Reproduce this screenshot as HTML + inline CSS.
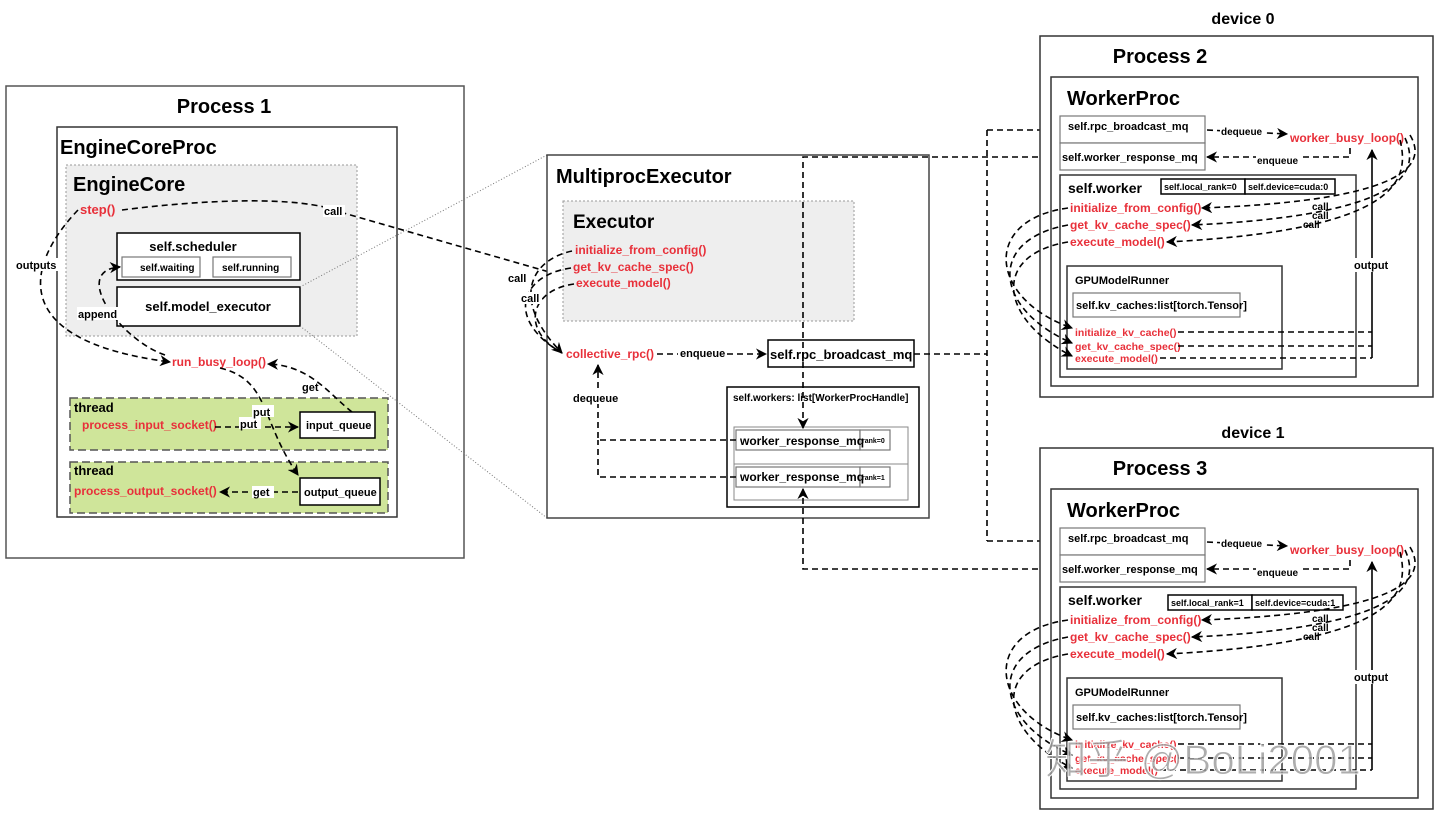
<!DOCTYPE html>
<html><head><meta charset="utf-8"><style>
html,body{margin:0;padding:0;background:#fff}
svg{display:block}
text{font-family:"Liberation Sans",Arial,sans-serif;font-weight:bold;fill:#000}
.r{fill:#e8303a}
.d{fill:none;stroke:#000;stroke-width:1.6;stroke-dasharray:6 4}
.b{fill:#fff;stroke:#000;stroke-width:1.5}
.g{fill:#fff;stroke:#777;stroke-width:1.2}
</style></head><body>
<svg width="1440" height="816" viewBox="0 0 1440 816" xmlns="http://www.w3.org/2000/svg">
<defs>
<marker id="a" viewBox="0 0 10 10" refX="9" refY="5" markerWidth="7" markerHeight="7" orient="auto-start-reverse"><path d="M0,0 L10,5 L0,10 L3,5 z" fill="#000"/></marker>
</defs>

<!-- Process 1 -->
<rect x="6" y="86" width="458" height="472" fill="#fff" stroke="#555" stroke-width="1.5"/>
<text x="224" y="113" font-size="20" text-anchor="middle">Process 1</text>
<rect x="57" y="127" width="340" height="390" fill="#fff" stroke="#333" stroke-width="1.5"/>
<text x="60" y="154" font-size="20">EngineCoreProc</text>
<rect x="66" y="165" width="291" height="171" fill="#eee" stroke="#999" stroke-dasharray="2 2"/>
<text x="73" y="191" font-size="20">EngineCore</text>
<text x="80" y="214" font-size="13" class="r">step()</text>
<rect x="117" y="233" width="183" height="47" class="b"/>
<text x="193" y="251" font-size="13" text-anchor="middle">self.scheduler</text>
<rect x="122" y="257" width="78" height="20" class="g"/>
<text x="140" y="271" font-size="10">self.waiting</text>
<rect x="213" y="257" width="78" height="20" class="g"/>
<text x="222" y="271" font-size="10">self.running</text>
<rect x="117" y="287" width="183" height="39" class="b"/>
<text x="208" y="311" font-size="13" text-anchor="middle">self.model_executor</text>
<text x="172" y="366" font-size="12" class="r">run_busy_loop()</text>

<rect x="70" y="398" width="318" height="52" fill="#cfe59a" stroke="#555" stroke-width="1.5" stroke-dasharray="8 4"/>
<text x="74" y="412" font-size="13">thread</text>
<text x="82" y="429" font-size="12" class="r">process_input_socket()</text>
<rect x="300" y="412" width="75" height="26" class="b"/>
<text x="306" y="429" font-size="11">input_queue</text>
<rect x="70" y="462" width="318" height="51" fill="#cfe59a" stroke="#555" stroke-width="1.5" stroke-dasharray="8 4"/>
<text x="74" y="475" font-size="13">thread</text>
<text x="74" y="495" font-size="12" class="r">process_output_socket()</text>
<rect x="300" y="478" width="80" height="27" class="b"/>
<text x="304" y="496" font-size="11">output_queue</text>

<!-- P1 connectors -->
<path class="d" d="M122,210 C200,200 300,195 340,212 L570,278" marker-end="url(#a)"/>
<rect x="323" y="205" width="22" height="12" fill="#fff"/><text x="324" y="215" font-size="11">call</text>
<path class="d" d="M78,210 C30,260 0,340 170,362" marker-end="url(#a)"/>
<rect x="15" y="258" width="46" height="13" fill="#fff"/><text x="16" y="269" font-size="11">outputs</text>
<path class="d" d="M165,355 C120,340 70,270 120,267" marker-end="url(#a)"/>
<rect x="77" y="307" width="46" height="13" fill="#fff"/><text x="78" y="318" font-size="11">append</text>
<path class="d" d="M352,412 C330,395 310,365 268,364" marker-end="url(#a)"/>
<text x="302" y="391" font-size="11">get</text>
<path class="d" d="M215,427 L298,427" marker-end="url(#a)"/>
<rect x="239" y="417" width="22" height="12" fill="#fff"/><text x="240" y="428" font-size="11">put</text>
<path class="d" d="M220,368 C270,380 260,420 298,475" marker-end="url(#a)"/>
<rect x="252" y="405" width="22" height="12" fill="#fff"/><text x="253" y="416" font-size="11">put</text>
<path class="d" d="M298,492 L220,492" marker-end="url(#a)"/>
<rect x="252" y="486" width="22" height="12" fill="#fff"/><text x="253" y="496" font-size="11">get</text>
<line x1="300" y1="287" x2="547" y2="155" stroke="#777" stroke-dasharray="1 2"/>
<line x1="300" y1="326" x2="547" y2="518" stroke="#777" stroke-dasharray="1 2"/>

<!-- MultiprocExecutor -->
<rect x="547" y="155" width="382" height="363" fill="#fff" stroke="#444" stroke-width="1.5"/>
<text x="556" y="183" font-size="20">MultiprocExecutor</text>
<rect x="563" y="201" width="291" height="120" fill="#eee" stroke="#999" stroke-dasharray="2 2"/>
<text x="573" y="228" font-size="19">Executor</text>
<text x="575" y="254" font-size="12" class="r">initialize_from_config()</text>
<text x="573" y="271" font-size="12" class="r">get_kv_cache_spec()</text>
<text x="576" y="287" font-size="12" class="r">execute_model()</text>
<text x="566" y="358" font-size="12" class="r">collective_rpc()</text>
<rect x="768" y="340" width="146" height="27" class="b"/>
<text x="770" y="359" font-size="13">self.rpc_broadcast_mq</text>
<rect x="727" y="387" width="192" height="120" class="b"/>
<text x="733" y="401" font-size="10">self.workers: list[WorkerProcHandle]</text>
<rect x="734" y="427" width="174" height="73" fill="none" stroke="#888"/>
<line x1="734" y1="464" x2="908" y2="464" stroke="#888"/>
<rect x="736" y="430" width="124" height="20" class="g"/><rect x="860" y="430" width="30" height="20" class="g"/>
<text x="740" y="445" font-size="12">worker_response_mq</text><text x="862" y="443" font-size="7">rank=0</text>
<rect x="736" y="467" width="124" height="20" class="g"/><rect x="860" y="467" width="30" height="20" class="g"/>
<text x="740" y="481" font-size="12">worker_response_mq</text><text x="862" y="480" font-size="7">rank=1</text>

<path class="d" d="M572,251 C530,260 510,300 562,353" marker-end="url(#a)"/>
<path class="d" d="M571,268 C520,275 505,320 562,353"/>
<path class="d" d="M574,284 C530,290 520,330 562,353"/>
<rect x="507" y="272" width="22" height="12" fill="#fff"/><text x="508" y="282" font-size="11">call</text>
<rect x="520" y="292" width="22" height="12" fill="#fff"/><text x="521" y="302" font-size="11">call</text>
<path class="d" d="M657,354 L766,354" marker-end="url(#a)"/>
<rect x="678" y="347" width="48" height="12" fill="#fff"/><text x="680" y="357" font-size="11">enqueue</text>
<path class="d" d="M736,440 L598,440 L598,365" marker-end="url(#a)"/>
<path class="d" d="M736,477 L598,477 L598,440"/>
<rect x="572" y="391" width="48" height="13" fill="#fff"/><text x="573" y="402" font-size="11">dequeue</text>
<path class="d" d="M1058,157 L803,157 L803,428" marker-end="url(#a)"/>
<path class="d" d="M1058,569 L803,569 L803,489" marker-end="url(#a)"/>
<path class="d" d="M914,354 L987,354"/>
<path class="d" d="M987,130 L987,541"/>
<path class="d" d="M987,130 L1058,130" marker-end="url(#a)"/>
<path class="d" d="M987,541 L1058,541" marker-end="url(#a)"/>

<!-- Device labels -->
<text x="1243" y="24" font-size="16" text-anchor="middle">device 0</text>
<text x="1253" y="438" font-size="16" text-anchor="middle">device 1</text>

<g>
<rect x="1040" y="36" width="393" height="361" fill="#fff" stroke="#333" stroke-width="1.5"/>
<text x="1160" y="63" font-size="20" text-anchor="middle">Process 2</text>
<rect x="1051" y="77" width="367" height="309" fill="#fff" stroke="#333" stroke-width="1.5"/>
<text x="1067" y="105" font-size="20">WorkerProc</text>
<rect x="1060" y="116" width="145" height="27" fill="#fff" stroke="#777" stroke-width="1.2"/>
<text x="1068" y="130" font-size="11">self.rpc_broadcast_mq</text>
<rect x="1060" y="143" width="145" height="27" fill="#fff" stroke="#777" stroke-width="1.2"/>
<text x="1062" y="161" font-size="11">self.worker_response_mq</text>
<text x="1290" y="142" font-size="12" class="r">worker_busy_loop()</text>
<path class="d" d="M1207,130 L1287,134" marker-end="url(#a)"/>
<rect x="1220" y="126" width="46" height="12" fill="#fff"/><text x="1221" y="135" font-size="10">dequeue</text>
<path class="d" d="M1350,148 L1350,157 L1207,157" marker-end="url(#a)"/>
<rect x="1256" y="155" width="46" height="12" fill="#fff"/><text x="1257" y="164" font-size="10">enqueue</text>
<rect x="1060" y="175" width="296" height="202" fill="#fff" stroke="#333" stroke-width="1.5"/>
<text x="1068" y="193" font-size="14">self.worker</text>
<rect x="1161" y="179" width="84" height="15" class="b" stroke-width="1.2"/>
<rect x="1245" y="179" width="90" height="15" class="b" stroke-width="1.2"/>
<text x="1164" y="190" font-size="9">self.local_rank=0</text>
<text x="1248" y="190" font-size="9">self.device=cuda:0</text>
<text x="1070" y="212" font-size="12" class="r">initialize_from_config()</text>
<text x="1070" y="229" font-size="12" class="r">get_kv_cache_spec()</text>
<text x="1070" y="246" font-size="12" class="r">execute_model()</text>
<path class="d" d="M1410,135 C1425,160 1420,200 1202,208" marker-end="url(#a)"/>
<path class="d" d="M1405,138 C1420,170 1410,215 1192,225" marker-end="url(#a)"/>
<path class="d" d="M1400,140 C1410,180 1400,230 1167,242" marker-end="url(#a)"/>
<text x="1312" y="210" font-size="10">call</text>
<text x="1312" y="219" font-size="10">call</text>
<text x="1303" y="228" font-size="10">call</text>
<rect x="1067" y="266" width="215" height="103" fill="#fff" stroke="#333" stroke-width="1.5"/>
<text x="1075" y="284" font-size="11">GPUModelRunner</text>
<rect x="1073" y="293" width="167" height="24" fill="#fff" stroke="#777" stroke-width="1.2"/>
<text x="1076" y="309" font-size="11">self.kv_caches:list[torch.Tensor]</text>
<text x="1075" y="336" font-size="10.5" class="r">initialize_kv_cache()</text>
<text x="1075" y="350" font-size="10.5" class="r">get_kv_cache_spec()</text>
<text x="1075" y="362" font-size="10.5" class="r">execute_model()</text>
<path class="d" d="M1068,208 C980,220 990,300 1072,328" marker-end="url(#a)"/>
<path class="d" d="M1068,225 C985,240 995,310 1072,343" marker-end="url(#a)"/>
<path class="d" d="M1068,242 C990,255 1000,320 1072,356" marker-end="url(#a)"/>
<path class="d" d="M1178,332 L1372,332"/>
<path class="d" d="M1178,346 L1372,346"/>
<path class="d" d="M1160,358 L1372,358"/>
<path d="M1372,358 L1372,150" stroke="#000" stroke-width="1.6" fill="none" marker-end="url(#a)"/>
<rect x="1352" y="258" width="40" height="14" fill="#fff"/><text x="1354" y="269" font-size="11">output</text>
</g>
<g transform="translate(0,412)">
<rect x="1040" y="36" width="393" height="361" fill="#fff" stroke="#333" stroke-width="1.5"/>
<text x="1160" y="63" font-size="20" text-anchor="middle">Process 3</text>
<rect x="1051" y="77" width="367" height="309" fill="#fff" stroke="#333" stroke-width="1.5"/>
<text x="1067" y="105" font-size="20">WorkerProc</text>
<rect x="1060" y="116" width="145" height="27" fill="#fff" stroke="#777" stroke-width="1.2"/>
<text x="1068" y="130" font-size="11">self.rpc_broadcast_mq</text>
<rect x="1060" y="143" width="145" height="27" fill="#fff" stroke="#777" stroke-width="1.2"/>
<text x="1062" y="161" font-size="11">self.worker_response_mq</text>
<text x="1290" y="142" font-size="12" class="r">worker_busy_loop()</text>
<path class="d" d="M1207,130 L1287,134" marker-end="url(#a)"/>
<rect x="1220" y="126" width="46" height="12" fill="#fff"/><text x="1221" y="135" font-size="10">dequeue</text>
<path class="d" d="M1350,148 L1350,157 L1207,157" marker-end="url(#a)"/>
<rect x="1256" y="155" width="46" height="12" fill="#fff"/><text x="1257" y="164" font-size="10">enqueue</text>
<rect x="1060" y="175" width="296" height="202" fill="#fff" stroke="#333" stroke-width="1.5"/>
<text x="1068" y="193" font-size="14">self.worker</text>
<rect x="1168" y="183" width="84" height="15" class="b" stroke-width="1.2"/>
<rect x="1252" y="183" width="91" height="15" class="b" stroke-width="1.2"/>
<text x="1171" y="194" font-size="9">self.local_rank=1</text>
<text x="1255" y="194" font-size="9">self.device=cuda:1</text>
<text x="1070" y="212" font-size="12" class="r">initialize_from_config()</text>
<text x="1070" y="229" font-size="12" class="r">get_kv_cache_spec()</text>
<text x="1070" y="246" font-size="12" class="r">execute_model()</text>
<path class="d" d="M1410,135 C1425,160 1420,200 1202,208" marker-end="url(#a)"/>
<path class="d" d="M1405,138 C1420,170 1410,215 1192,225" marker-end="url(#a)"/>
<path class="d" d="M1400,140 C1410,180 1400,230 1167,242" marker-end="url(#a)"/>
<text x="1312" y="210" font-size="10">call</text>
<text x="1312" y="219" font-size="10">call</text>
<text x="1303" y="228" font-size="10">call</text>
<rect x="1067" y="266" width="215" height="103" fill="#fff" stroke="#333" stroke-width="1.5"/>
<text x="1075" y="284" font-size="11">GPUModelRunner</text>
<rect x="1073" y="293" width="167" height="24" fill="#fff" stroke="#777" stroke-width="1.2"/>
<text x="1076" y="309" font-size="11">self.kv_caches:list[torch.Tensor]</text>
<text x="1075" y="336" font-size="10.5" class="r">initialize_kv_cache()</text>
<text x="1075" y="350" font-size="10.5" class="r">get_kv_cache_spec()</text>
<text x="1075" y="362" font-size="10.5" class="r">execute_model()</text>
<path class="d" d="M1068,208 C980,220 990,300 1072,328" marker-end="url(#a)"/>
<path class="d" d="M1068,225 C985,240 995,310 1072,343" marker-end="url(#a)"/>
<path class="d" d="M1068,242 C990,255 1000,320 1072,356" marker-end="url(#a)"/>
<path class="d" d="M1178,332 L1372,332"/>
<path class="d" d="M1178,346 L1372,346"/>
<path class="d" d="M1160,358 L1372,358"/>
<path d="M1372,358 L1372,150" stroke="#000" stroke-width="1.6" fill="none" marker-end="url(#a)"/>
<rect x="1352" y="258" width="40" height="14" fill="#fff"/><text x="1354" y="269" font-size="11">output</text>
</g>
<text x="1045" y="774" font-size="42" style="font-family:'Liberation Sans','Noto Sans CJK SC',sans-serif;font-weight:normal;fill:#999;fill-opacity:0.8;stroke:#fff;stroke-width:1">知乎 @BoLi2001</text>
</svg>
</body></html>
